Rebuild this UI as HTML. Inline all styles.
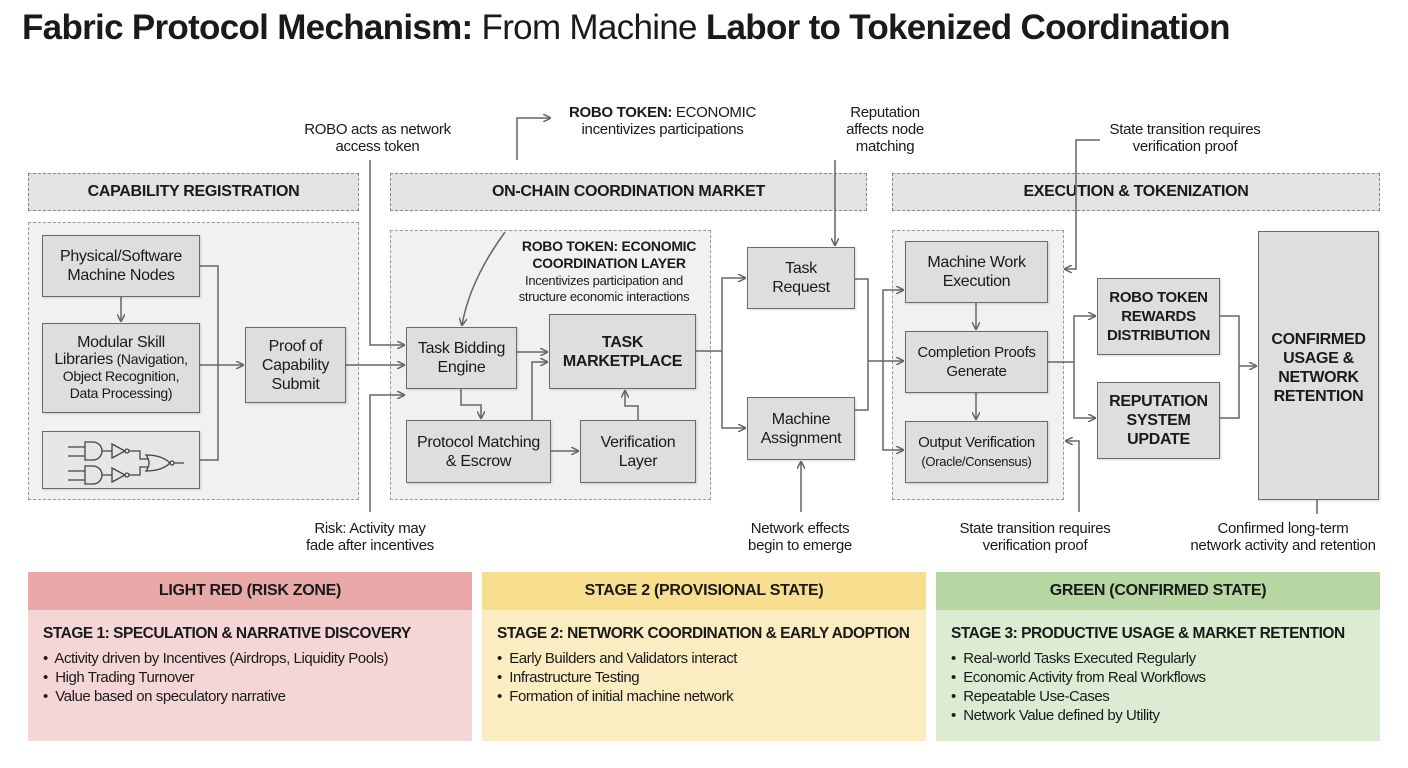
<!DOCTYPE html>
<html><head><meta charset="utf-8"><style>
*{margin:0;padding:0;box-sizing:border-box}
body{width:1408px;height:768px;background:#fff;position:relative;overflow:hidden;font-family:"Liberation Sans",sans-serif;color:#1a1a1a;letter-spacing:-0.3px}
.t{position:absolute;left:22px;top:8px;font-size:35px;letter-spacing:-0.7px;white-space:nowrap}
.hdr{position:absolute;height:38px;background:#e3e3e3;border:1px dashed #888;display:flex;align-items:center;justify-content:center;font-weight:bold;font-size:16px}
.dc{position:absolute;border:1px dashed #999;background:#f1f1f1}
.b{position:absolute;background:#dedede;border:1.5px solid #6a6a6a;display:flex;align-items:center;justify-content:center;text-align:center;font-size:16px;line-height:19px;box-shadow:1px 1px 2px rgba(0,0,0,.15);white-space:nowrap}
.bb{font-weight:bold}
.a{position:absolute;text-align:center;font-size:15px;line-height:17px;white-space:nowrap}
.p{position:absolute;top:572px;height:169px;width:444px}
.ph{height:38px;display:flex;align-items:center;justify-content:center;font-weight:bold;font-size:16px}
.pb{padding:14px 15px;font-size:15px;line-height:19px;letter-spacing:-0.45px;white-space:nowrap}
.pb h4{font-size:15.5px;margin-bottom:6px;letter-spacing:-0.5px}
svg{position:absolute;left:0;top:0}
</style></head><body>
<div class="t"><b>Fabric Protocol Mechanism:</b> From Machine <b>Labor to Tokenized Coordination</b></div>

<div class="hdr" style="left:28px;top:173px;width:331px">CAPABILITY REGISTRATION</div>
<div class="hdr" style="left:390px;top:173px;width:477px">ON-CHAIN COORDINATION MARKET</div>
<div class="hdr" style="left:892px;top:173px;width:488px">EXECUTION &amp; TOKENIZATION</div>

<div class="dc" style="left:28px;top:222px;width:331px;height:278px"></div>
<div class="dc" style="left:390px;top:230px;width:321px;height:270px"></div>
<div class="dc" style="left:892px;top:230px;width:172px;height:270px"></div>

<svg width="1408" height="768" viewBox="0 0 1408 768">
<defs><marker id="m" markerWidth="8" markerHeight="8" refX="7" refY="4" orient="auto" markerUnits="userSpaceOnUse"><path d="M0,0 L8,4 L0,8" fill="none" stroke="#666" stroke-width="1.5"/></marker></defs>
<g fill="none" stroke="#666" stroke-width="1.5">
<path d="M200,266 H218 V460 H200"/>
<path d="M121,297 V321" marker-end="url(#m)"/>
<path d="M200,365 H243" marker-end="url(#m)"/>
<path d="M346,365 H404" marker-end="url(#m)"/>
<path d="M370,160 V345 H404" marker-end="url(#m)"/>
<path d="M370,512 V395 H404" marker-end="url(#m)"/>
<path d="M517,160 V118 H550" marker-end="url(#m)"/>
<path d="M505,232 Q470,280 462,325" marker-end="url(#m)"/>
<path d="M517,352 H547" marker-end="url(#m)"/>
<path d="M532,420 V362 H547" marker-end="url(#m)"/>
<path d="M461,389 V405 H481 V418" marker-end="url(#m)"/>
<path d="M551,451 H578" marker-end="url(#m)"/>
<path d="M638,420 V406 H625 V391" marker-end="url(#m)"/>
<path d="M696,351 H722 V278 H745" marker-end="url(#m)"/>
<path d="M722,351 V428 H745" marker-end="url(#m)"/>
<path d="M835,160 V245" marker-end="url(#m)"/>
<path d="M801,512 V462" marker-end="url(#m)"/>
<path d="M855,279 H868 V410 H855"/>
<path d="M868,361 H903" marker-end="url(#m)"/>
<path d="M883,361 V290 H903" marker-end="url(#m)"/>
<path d="M883,361 V450 H903" marker-end="url(#m)"/>
<path d="M976,303 V329" marker-end="url(#m)"/>
<path d="M976,393 V419" marker-end="url(#m)"/>
<path d="M1048,362 H1074 V316 H1095" marker-end="url(#m)"/>
<path d="M1074,362 V418 H1095" marker-end="url(#m)"/>
<path d="M1220,316 H1239 V418 H1220"/>
<path d="M1239,366 H1256" marker-end="url(#m)"/>
<path d="M1076,160 V140 H1100"/>
<path d="M1076,160 V269 H1065" marker-end="url(#m)"/>
<path d="M1079,512 V441 H1066" marker-end="url(#m)"/>
<path d="M1317,500 V514"/>
</g>
</svg>

<div class="b" style="left:42px;top:235px;width:158px;height:62px">Physical/Software<br>Machine Nodes</div>
<div class="b" style="left:42px;top:323px;width:158px;height:90px;font-size:14px;line-height:17px"><div><span style="font-size:16px">Modular Skill<br>Libraries</span> (Navigation,<br>Object Recognition,<br>Data Processing)</div></div>
<div class="b" style="left:42px;top:431px;width:158px;height:58px;background:#e6e6e6"></div>
<svg width="1408" height="768" style="pointer-events:none"><g stroke="#444" stroke-width="1.3" fill="none">
<path d="M68,447 H85 M68,456 H85 M85,442 H93 A9,9 0 0 1 93,460 H85 Z"/>
<path d="M68,471 H85 M68,480 H85 M85,466 H93 A9,9 0 0 1 93,484 H85 Z"/>
<path d="M102,451 H112 M112,444 L125,451 L112,458 Z M129,451 H140 V459 H148"/>
<path d="M102,475 H112 M112,468 L125,475 L112,482 Z M129,475 H140 V467 H148"/>
<circle cx="127" cy="451" r="2"/><circle cx="127" cy="475" r="2"/>
<path d="M146,455 Q162,455 170,463 Q162,471 146,471 Q152,463 146,455 Z M174,463 H184"/>
<circle cx="172" cy="463" r="2"/></g></svg>
<div class="b" style="left:245px;top:327px;width:101px;height:76px">Proof of<br>Capability<br>Submit</div>
<div class="b" style="left:406px;top:327px;width:111px;height:62px">Task Bidding<br>Engine</div>
<div class="b bb" style="left:549px;top:314px;width:147px;height:75px">TASK<br>MARKETPLACE</div>
<div class="b" style="left:406px;top:420px;width:145px;height:63px">Protocol Matching<br>&amp; Escrow</div>
<div class="b" style="left:580px;top:420px;width:116px;height:63px">Verification<br>Layer</div>
<div class="b" style="left:747px;top:247px;width:108px;height:62px">Task<br>Request</div>
<div class="b" style="left:747px;top:397px;width:108px;height:63px">Machine<br>Assignment</div>
<div class="b" style="left:905px;top:241px;width:143px;height:62px">Machine Work<br>Execution</div>
<div class="b" style="left:905px;top:331px;width:143px;height:62px;font-size:15px">Completion Proofs<br>Generate</div>
<div class="b" style="left:905px;top:421px;width:143px;height:62px;font-size:15px"><div>Output Verification<br><span style="font-size:13px">(Oracle/Consensus)</span></div></div>
<div class="b bb" style="left:1097px;top:278px;width:123px;height:77px;font-size:15px">ROBO TOKEN<br>REWARDS<br>DISTRIBUTION</div>
<div class="b bb" style="left:1097px;top:382px;width:123px;height:77px">REPUTATION<br>SYSTEM<br>UPDATE</div>
<div class="b bb" style="left:1258px;top:231px;width:121px;height:269px;align-items:flex-start;padding-top:98px">CONFIRMED<br>USAGE &amp;<br>NETWORK<br>RETENTION</div>

<div class="a" style="left:504px;top:238px;width:210px;font-weight:bold;font-size:14px">ROBO TOKEN: ECONOMIC<br>COORDINATION LAYER</div>
<div class="a" style="left:494px;top:273px;width:220px;font-size:13px;line-height:16px">Incentivizes participation and<br>structure economic interactions</div>

<div class="a" style="left:280px;top:121px;width:195px">ROBO acts as network<br>access token</div>
<div class="a" style="left:540px;top:104px;width:245px"><b>ROBO TOKEN:</b> ECONOMIC<br>incentivizes participations</div>
<div class="a" style="left:820px;top:104px;width:130px">Reputation<br>affects node<br>matching</div>
<div class="a" style="left:1080px;top:121px;width:210px">State transition requires<br>verification proof</div>
<div class="a" style="left:280px;top:520px;width:180px">Risk: Activity may<br>fade after incentives</div>
<div class="a" style="left:720px;top:520px;width:160px">Network effects<br>begin to emerge</div>
<div class="a" style="left:940px;top:520px;width:190px">State transition requires<br>verification proof</div>
<div class="a" style="left:1170px;top:520px;width:226px">Confirmed long-term<br>network activity and retention</div>

<div class="p" style="left:28px;background:#f5d6d6"><div class="ph" style="background:#eaa9a9">LIGHT RED (RISK ZONE)</div>
<div class="pb"><h4>STAGE 1: SPECULATION &amp; NARRATIVE DISCOVERY</h4>
<div>•&nbsp; Activity driven by Incentives (Airdrops, Liquidity Pools)</div><div>•&nbsp; High Trading Turnover</div><div>•&nbsp; Value based on speculatory narrative</div></div></div>
<div class="p" style="left:482px;background:#fbecc2"><div class="ph" style="background:#f8df90">STAGE 2 (PROVISIONAL STATE)</div>
<div class="pb"><h4>STAGE 2: NETWORK COORDINATION &amp; EARLY ADOPTION</h4>
<div>•&nbsp; Early Builders and Validators interact</div><div>•&nbsp; Infrastructure Testing</div><div>•&nbsp; Formation of initial machine network</div></div></div>
<div class="p" style="left:936px;background:#dcecd3"><div class="ph" style="background:#b6d7a2">GREEN (CONFIRMED STATE)</div>
<div class="pb"><h4>STAGE 3: PRODUCTIVE USAGE &amp; MARKET RETENTION</h4>
<div>•&nbsp; Real-world Tasks Executed Regularly</div><div>•&nbsp; Economic Activity from Real Workflows</div><div>•&nbsp; Repeatable Use-Cases</div><div>•&nbsp; Network Value defined by Utility</div></div></div>
</body></html>
